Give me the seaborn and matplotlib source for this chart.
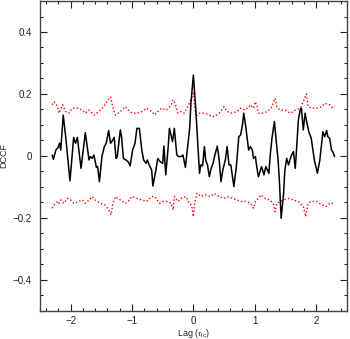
import matplotlib
matplotlib.use("Agg")
import matplotlib.pyplot as plt
import seaborn as sns
from matplotlib.ticker import MultipleLocator

# DCCF curve
lag = [-2.30, -2.28, -2.24, -2.20, -2.18, -2.16, -2.12, -2.08, -2.01, -1.95,
       -1.92, -1.89, -1.83, -1.76, -1.70, -1.68, -1.65, -1.62, -1.58, -1.56,
       -1.53, -1.49, -1.45, -1.42, -1.38, -1.35, -1.33, -1.29, -1.26, -1.24,
       -1.19, -1.17, -1.14, -1.10, -1.06, -1.03, -0.99, -0.95, -0.92, -0.88,
       -0.84, -0.81, -0.77, -0.75, -0.72, -0.68, -0.66, -0.61, -0.58, -0.54,
       -0.50, -0.48, -0.45, -0.41, -0.39, -0.34, -0.31, -0.27, -0.24, -0.20,
       -0.17, -0.13, -0.06, -0.04, 0.00, 0.04, 0.10, 0.12, 0.15, 0.18,
       0.20, 0.23, 0.26, 0.29, 0.32, 0.35, 0.39, 0.42, 0.45, 0.48,
       0.52, 0.55, 0.58, 0.61, 0.66, 0.70, 0.74, 0.77, 0.80, 0.82,
       0.85, 0.88, 0.90, 0.93, 0.96, 0.98, 1.01, 1.04, 1.06, 1.11,
       1.15, 1.18, 1.23, 1.25, 1.28, 1.32, 1.34, 1.38, 1.40, 1.43,
       1.47, 1.49, 1.52, 1.55, 1.58, 1.60, 1.63, 1.66, 1.68, 1.71,
       1.74, 1.76, 1.79, 1.82, 1.84, 1.88, 1.92, 1.97, 1.99, 2.02,
       2.06, 2.09, 2.11, 2.14, 2.17, 2.19, 2.22, 2.25, 2.27, 2.30]
dccf = [0.003, -0.011, 0.019, 0.028, 0.041, 0.019, 0.132, 0.062, -0.080, 0.060,
        0.041, 0.060, -0.040, 0.075, -0.013, -0.002, -0.008, 0.003, -0.037, -0.034,
        -0.083, -0.002, 0.030, 0.041, 0.082, 0.041, 0.046, 0.060, -0.008, -0.002,
        0.084, 0.062, -0.008, -0.013, -0.019, -0.032, 0.019, 0.041, 0.089, 0.089,
        0.019, -0.013, -0.024, -0.013, -0.029, -0.045, -0.097, -0.045, -0.008, -0.019,
        -0.024, 0.032, -0.061, 0.030, 0.089, 0.046, 0.089, 0.003, -0.002, -0.002,
        0.003, -0.037, 0.090, 0.170, 0.261, 0.148, -0.056, -0.029, -0.032, 0.030,
        -0.013, -0.029, -0.067, -0.040, -0.024, 0.003, 0.032, -0.013, -0.083, -0.045,
        -0.013, 0.030, -0.029, -0.029, -0.099, -0.034, 0.062, 0.068, 0.100, 0.138,
        0.100, 0.052, 0.019, 0.030, 0.019, -0.008, -0.002, -0.045, -0.067, -0.034,
        -0.061, -0.034, -0.056, -0.002, 0.057, 0.111, 0.068, -0.013, -0.077, -0.201,
        -0.120, -0.045, -0.008, -0.029, -0.008, 0.003, 0.014, -0.040, 0.019, 0.116,
        0.148, 0.154, 0.084, 0.138, 0.116, 0.078, 0.057, -0.013, -0.029, -0.056,
        -0.013, 0.041, 0.078, 0.062, 0.082, 0.062, 0.057, 0.019, 0.014, -0.002]

# upper confidence limit
lag_up = [-2.30, -2.27, -2.21, -2.19, -2.13, -2.08, -2.03, -1.97, -1.89, -1.81,
          -1.76, -1.70, -1.62, -1.54, -1.46, -1.41, -1.35, -1.30, -1.27, -1.19,
          -1.11, -1.06, -1.00, -0.92, -0.84, -0.76, -0.68, -0.63, -0.58, -0.52,
          -0.44, -0.36, -0.33, -0.31, -0.25, -0.20, -0.15, -0.09, -0.04, 0.00,
          0.04, 0.10, 0.18, 0.26, 0.34, 0.42, 0.50, 0.55, 0.63, 0.71,
          0.77, 0.85, 0.93, 0.98, 1.01, 1.04, 1.06, 1.15, 1.23, 1.28,
          1.33, 1.36, 1.41, 1.49, 1.58, 1.66, 1.74, 1.79, 1.84, 1.87,
          1.92, 2.01, 2.09, 2.14, 2.22, 2.27, 2.30]
ci_up = [0.165, 0.175, 0.159, 0.138, 0.165, 0.143, 0.138, 0.154, 0.154, 0.148,
         0.138, 0.148, 0.132, 0.143, 0.159, 0.175, 0.191, 0.148, 0.132, 0.143,
         0.159, 0.148, 0.138, 0.138, 0.143, 0.154, 0.143, 0.132, 0.143, 0.154,
         0.148, 0.165, 0.181, 0.175, 0.138, 0.143, 0.138, 0.159, 0.181, 0.202,
         0.127, 0.138, 0.138, 0.132, 0.127, 0.138, 0.159, 0.143, 0.138, 0.143,
         0.154, 0.148, 0.165, 0.154, 0.175, 0.159, 0.138, 0.138, 0.148, 0.159,
         0.186, 0.159, 0.148, 0.148, 0.138, 0.148, 0.154, 0.175, 0.200, 0.159,
         0.154, 0.154, 0.159, 0.170, 0.165, 0.154, 0.159]

# lower confidence limit
lag_lo = [-2.30, -2.27, -2.21, -2.19, -2.16, -2.11, -2.05, -2.00, -1.95, -1.87,
          -1.81, -1.76, -1.70, -1.65, -1.60, -1.52, -1.44, -1.38, -1.34, -1.31,
          -1.27, -1.19, -1.11, -1.06, -1.00, -0.92, -0.84, -0.76, -0.68, -0.63,
          -0.55, -0.50, -0.42, -0.36, -0.33, -0.31, -0.25, -0.20, -0.12, -0.07,
          -0.03, 0.00, 0.02, 0.06, 0.12, 0.20, 0.28, 0.34, 0.42, 0.50,
          0.58, 0.63, 0.71, 0.77, 0.85, 0.93, 0.98, 1.01, 1.06, 1.10,
          1.17, 1.25, 1.31, 1.33, 1.36, 1.41, 1.47, 1.55, 1.63, 1.71,
          1.79, 1.83, 1.87, 1.92, 2.01, 2.09, 2.17, 2.22, 2.30]
ci_lo = [-0.169, -0.158, -0.147, -0.153, -0.142, -0.153, -0.137, -0.142, -0.153, -0.147,
         -0.142, -0.153, -0.142, -0.131, -0.142, -0.153, -0.158, -0.174, -0.190, -0.153,
         -0.131, -0.142, -0.153, -0.147, -0.131, -0.137, -0.142, -0.147, -0.131, -0.131,
         -0.153, -0.147, -0.147, -0.153, -0.174, -0.131, -0.147, -0.137, -0.131, -0.153,
         -0.158, -0.196, -0.153, -0.120, -0.131, -0.126, -0.131, -0.121, -0.131, -0.137,
         -0.131, -0.137, -0.142, -0.147, -0.147, -0.153, -0.169, -0.147, -0.137, -0.126,
         -0.137, -0.142, -0.158, -0.180, -0.153, -0.147, -0.142, -0.137, -0.142, -0.147,
         -0.163, -0.196, -0.153, -0.147, -0.147, -0.158, -0.163, -0.153, -0.153]

y_ticks = [-0.4, -0.2, 0, 0.2, 0.4]
y_ticklabels = ["\u22120.4", "\u22120.2", "0", "0.2", "0.4"]

sns.set_style("ticks")
plt.rcParams["font.family"] = ["Liberation Sans", "DejaVu Sans"]
plt.rcParams["mathtext.fontset"] = "custom"
plt.rcParams["mathtext.it"] = "Liberation Serif:italic"
plt.rcParams["mathtext.rm"] = "Liberation Sans"

fig = plt.figure(figsize=(3.5, 3.39), dpi=100)
ax = fig.add_axes([0.114, 0.083, 0.877, 0.914])

dots = (0, (1, 1.6))
sns.lineplot(x=lag_up, y=ci_up, ax=ax, color="red", lw=1.0, linestyle=dots)
sns.lineplot(x=lag_lo, y=ci_lo, ax=ax, color="red", lw=1.0, linestyle=dots)
sns.lineplot(x=lag, y=dccf, ax=ax, color="black", lw=1.1)

ax.set_xlim(-2.5, 2.5)
ax.set_ylim(-0.5, 0.5)
ax.xaxis.set_major_locator(MultipleLocator(1))
ax.xaxis.set_minor_locator(MultipleLocator(0.2))
ax.set_yticks(y_ticks)
ax.set_yticklabels(y_ticklabels)
ax.yaxis.set_minor_locator(MultipleLocator(0.05))
ax.tick_params(which="both", direction="in", top=True, right=True,
               labelsize=7, colors="#222222", width=0.8)
ax.tick_params(which="major", length=5)
ax.tick_params(which="minor", length=2.5)
ax.tick_params(axis="y", pad=6)
ax.tick_params(axis="x", pad=4)
for s in ax.spines.values():
    s.set_linewidth(1.0)
    s.set_color("#444444")

ax.set_xlabel(r"Lag ($\tau_{\rm lc}$)", fontsize=6.5, labelpad=0.5)
ax.set_ylabel("DCCF", fontsize=6.5, labelpad=3)

fig.savefig("out.png", dpi=100)
